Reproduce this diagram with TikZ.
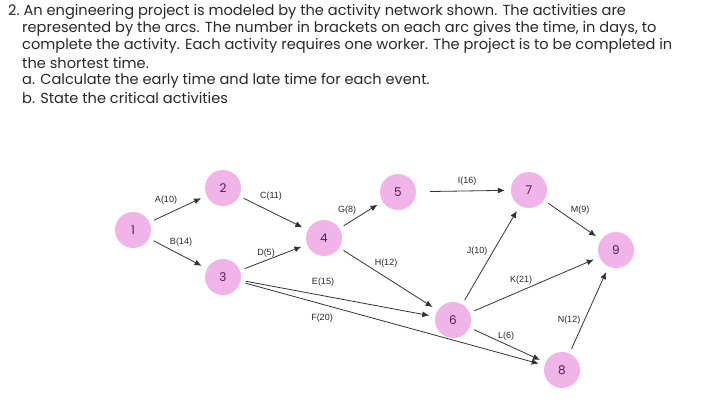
\documentclass[tikz,border=0pt]{standalone}
\usepackage{fontspec}
\setmainfont{Poppins}
\newfontfamily\lab{Liberation Sans}
\usetikzlibrary{arrows.meta}
\definecolor{ev}{RGB}{240,180,232}
\definecolor{evt}{RGB}{80,30,80}
\definecolor{txt}{RGB}{40,40,40}
\begin{document}
\begin{tikzpicture}[x=1pt,y=-1pt,
  ev/.style={circle,fill=ev,minimum size=36pt,inner sep=0pt,text=evt,font=\fontsize{12}{12}\selectfont},
  arc/.style={draw=black!80,line width=0.8pt,-{Latex[length=7pt,width=6pt]},shorten <=5pt,shorten >=6pt},
  al/.style={font=\lab\fontsize{9}{9}\selectfont,text=black!85},
  qt/.style={anchor=west,inner sep=0pt,text=txt,font=\fontsize{14.6}{17}\selectfont}]
\useasboundingbox (0,0) rectangle (720,404);
\node[qt] (q1) at (8,12) {2.\ An engineering project is modeled by the activity network shown. The activities are};
\node[qt] (q2) at (22,29) {represented by the arcs. The number in brackets on each arc gives the time, in days, to};
\node[qt] (q3) at (22,46) {complete the activity. Each activity requires one worker. The project is to be completed in};
\node[qt] (q4) at (22,63) {the shortest time.};
\node[qt] (q5) at (22,81) {a. Calculate the early time and late time for each event.};
\node[qt] (q6) at (22,98) {b. State the critical activities};

\node[ev] (n1) at (133,230) {1};
\node[ev] (n2) at (223,188) {2};
\node[ev] (n3) at (223,277) {3};
\node[ev] (n4) at (324,238) {4};
\node[ev] (n5) at (398,192) {5};
\node[ev] (n7) at (529,190) {7};
\node[ev] (n9) at (616,250) {9};
\node[ev] (n6) at (453,320) {6};
\node[ev] (n8) at (562,370) {8};

\draw[arc] (n1) -- (n2);
\draw[arc] (n1) -- (n3);
\draw[arc] (n2) -- (n4);
\draw[arc] (n3) -- (n4);
\draw[arc] (n4) -- (n5);
\draw[arc] (n4) -- (n6);
\draw[arc] (n3) -- (n6);
\draw[arc] (n3) -- (n8);
\draw[arc,shorten <=14pt] (n5) -- (n7);
\draw[arc] (n6) -- (n7);
\draw[arc] (n6) -- (n9);
\draw[arc] (n6) -- (n8);
\draw[arc] (n7) -- (n9);
\draw[arc] (n8) -- (n9);

\node[al] (la) at (166,200) {A(10)};
\node[al] (lb) at (181,242) {B(14)};
\node[al] (lc) at (271,196) {C(11)};
\node[al] (ld) at (266,253) {D(5)};
\node[al] (lg) at (347,210) {G(8)};
\node[al] (le) at (323,282) {E(15)};
\node[al] (lf) at (322,318) {F(20)};
\node[al] (lh) at (386,263) {H(12)};
\node[al] (li) at (467,181) {I(16)};
\node[al] (lj) at (477,251) {J(10)};
\node[al] (lk) at (521,280) {K(21)};
\node[al] (ll) at (506,336) {L(6)};
\node[al] (lm) at (580,210) {M(9)};
\node[al] (ln) at (569,320) {N(12)};
\end{tikzpicture}
\end{document}
